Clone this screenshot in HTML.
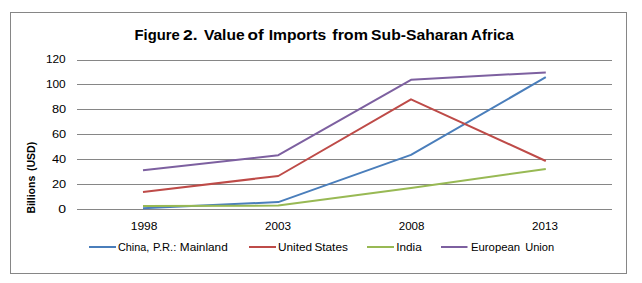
<!DOCTYPE html>
<html><head><meta charset="utf-8">
<style>
html,body{margin:0;padding:0;background:#fff;width:642px;height:283px;overflow:hidden}
svg{display:block}
text{font-family:"Liberation Sans",sans-serif;fill:#000}
</style></head>
<body>
<svg width="642" height="283" viewBox="0 0 642 283" xmlns="http://www.w3.org/2000/svg">
<rect x="0" y="0" width="642" height="283" fill="#fff"/>
<rect x="10.5" y="12.5" width="616" height="261" fill="none" stroke="#868686" stroke-width="1"/>
<!-- title -->
<g font-size="14.6" font-weight="bold">
<text x="134.5" y="39.5" textLength="45.2" lengthAdjust="spacingAndGlyphs">Figure</text>
<text x="183.1" y="39.5" textLength="14.6" lengthAdjust="spacingAndGlyphs">2.</text>
<text x="203.9" y="39.5" textLength="40.8" lengthAdjust="spacingAndGlyphs">Value</text>
<text x="247.5" y="39.5" textLength="16.2" lengthAdjust="spacingAndGlyphs">of</text>
<text x="268.7" y="39.5" textLength="57.4" lengthAdjust="spacingAndGlyphs">Imports</text>
<text x="332.3" y="39.5" textLength="35.6" lengthAdjust="spacingAndGlyphs">from</text>
<text x="371.1" y="39.5" textLength="96.8" lengthAdjust="spacingAndGlyphs">Sub-Saharan</text>
<text x="471.1" y="39.5" textLength="42.8" lengthAdjust="spacingAndGlyphs">Africa</text>
</g>
<!-- gridlines -->
<g stroke="#868686" stroke-width="1">
<line x1="77" y1="60.5" x2="612" y2="60.5"/>
<line x1="77" y1="84.5" x2="612" y2="84.5"/>
<line x1="77" y1="109.5" x2="612" y2="109.5"/>
<line x1="77" y1="134.5" x2="612" y2="134.5"/>
<line x1="77" y1="159.5" x2="612" y2="159.5"/>
<line x1="77" y1="184.5" x2="612" y2="184.5"/>
<line x1="77" y1="209.5" x2="612" y2="209.5"/>
</g>
<!-- y labels -->
<g font-size="11.5">
<text x="45.9" y="63" textLength="19.8" lengthAdjust="spacingAndGlyphs">120</text>
<text x="45.9" y="88" textLength="19.8" lengthAdjust="spacingAndGlyphs">100</text>
<text x="51.9" y="113" textLength="14.2" lengthAdjust="spacingAndGlyphs">80</text>
<text x="51.9" y="138" textLength="14.2" lengthAdjust="spacingAndGlyphs">60</text>
<text x="51.9" y="163" textLength="14.2" lengthAdjust="spacingAndGlyphs">40</text>
<text x="51.9" y="188" textLength="14.2" lengthAdjust="spacingAndGlyphs">20</text>
<text x="58.3" y="213" textLength="7.8" lengthAdjust="spacingAndGlyphs">0</text>
</g>
<!-- y title -->
<g transform="translate(35.1,0) rotate(-90)" font-size="11" font-weight="bold">
<text x="-213.6" y="0" textLength="37.8" lengthAdjust="spacingAndGlyphs">Billions</text>
<text x="-171.0" y="0" textLength="29.2" lengthAdjust="spacingAndGlyphs">(USD)</text>
</g>
<!-- x labels -->
<g font-size="11.5">
<text x="130.7" y="230" textLength="26.8" lengthAdjust="spacingAndGlyphs">1998</text>
<text x="265.1" y="230" textLength="26.0" lengthAdjust="spacingAndGlyphs">2003</text>
<text x="398.7" y="230" textLength="25.8" lengthAdjust="spacingAndGlyphs">2008</text>
<text x="532.1" y="230" textLength="25.8" lengthAdjust="spacingAndGlyphs">2013</text>
</g>
<!-- series -->
<g fill="none" stroke-width="2" stroke-linejoin="round">
<polyline stroke="#4A7EBB" points="143,208.2 278.3,202.1 411,154.9 545.8,77.2"/>
<polyline stroke="#BE4B48" points="143,191.9 278.3,176.0 411,99.3 545.8,161"/>
<polyline stroke="#98B954" points="143,205.9 278.3,205.6 411,188 545.8,168.9"/>
<polyline stroke="#7D60A0" points="143,170.2 278.3,155.2 411,79.8 545.8,72.4"/>
</g>
<!-- legend -->
<g stroke-width="2">
<line x1="89" y1="247" x2="116" y2="247" stroke="#4A7EBB"/>
<line x1="249" y1="247" x2="276" y2="247" stroke="#BE4B48"/>
<line x1="367" y1="247" x2="394" y2="247" stroke="#98B954"/>
<line x1="441" y1="247" x2="467.5" y2="247" stroke="#7D60A0"/>
</g>
<g font-size="11">
<text x="118.0" y="251" textLength="31.3" lengthAdjust="spacingAndGlyphs">China,</text>
<text x="153.0" y="251" textLength="23.3" lengthAdjust="spacingAndGlyphs">P.R.:</text>
<text x="179.8" y="251" textLength="47.9" lengthAdjust="spacingAndGlyphs">Mainland</text>
<text x="278.0" y="251" textLength="34.1" lengthAdjust="spacingAndGlyphs">United</text>
<text x="314.4" y="251" textLength="33.5" lengthAdjust="spacingAndGlyphs">States</text>
<text x="396.2" y="251" textLength="25.5" lengthAdjust="spacingAndGlyphs">India</text>
<text x="471.0" y="251" textLength="49.1" lengthAdjust="spacingAndGlyphs">European</text>
<text x="525.2" y="251" textLength="28.9" lengthAdjust="spacingAndGlyphs">Union</text>
</g>
</svg>
</body></html>
